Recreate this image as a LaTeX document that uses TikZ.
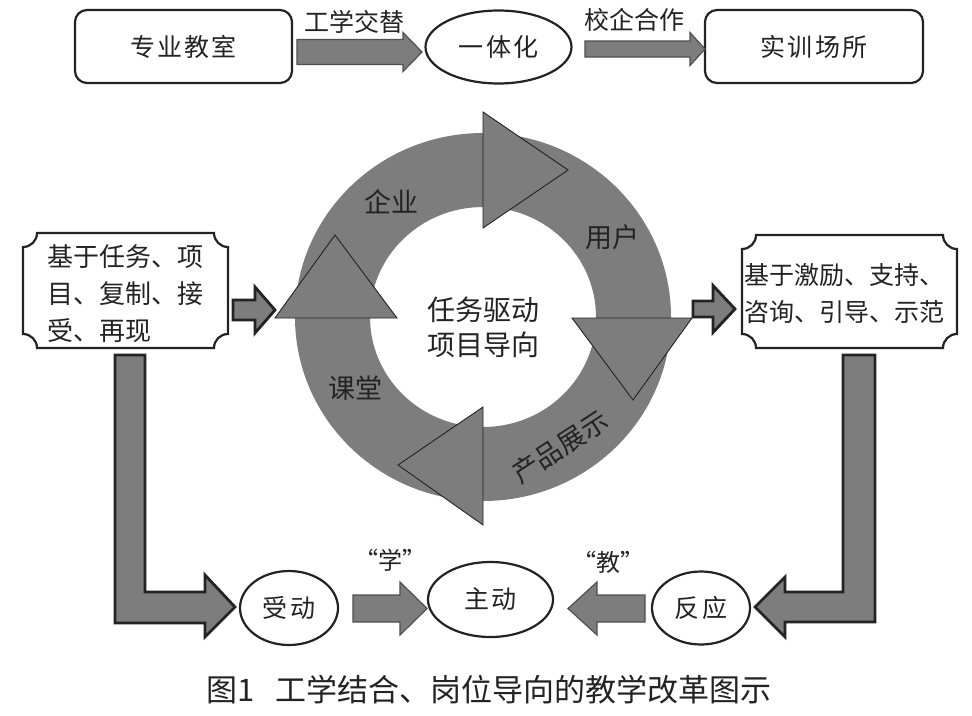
\documentclass[tikz,border=0pt]{standalone}
\usepackage{fontspec}
\setmainfont{Noto Sans CJK SC}
\newfontfamily\cjksp[LetterSpace=9]{Noto Sans CJK SC}
\usetikzlibrary{shapes.geometric}
\definecolor{ag}{RGB}{125,125,125}
\definecolor{ink}{RGB}{35,35,35}
\newcommand\barrow[7]{%
  \filldraw[#1] (#2,{#5-#6}) -- (#3,{#5-#6}) -- (#3,{#5-#7}) -- (#4,#5) -- (#3,{#5+#7}) -- (#3,{#5+#6}) -- (#2,{#5+#6}) -- cycle;}
\newcommand\plaque[5]{%
  \draw[boxline] ({#1+#5},#2) -- ({#3-#5},#2)
     .. controls ({#3-#5},{#2+0.552*#5}) and ({#3-0.552*#5},{#2+#5}) .. (#3,{#2+#5})
   -- (#3,{#4-#5})
     .. controls ({#3-0.552*#5},{#4-#5}) and ({#3-#5},{#4-0.552*#5}) .. ({#3-#5},#4)
   -- ({#1+#5},#4)
     .. controls ({#1+#5},{#4-0.552*#5}) and ({#1+0.552*#5},{#4-#5}) .. (#1,{#4-#5})
   -- (#1,{#2+#5})
     .. controls ({#1+0.552*#5},{#2+#5}) and ({#1+#5},{#2+0.552*#5}) .. ({#1+#5},#2) -- cycle;}
\begin{document}
\begin{tikzpicture}[x=1pt,y=-1pt,
  every node/.style={text=ink, inner sep=0pt},
  boxline/.style={draw=ink, line width=2.2pt, fill=white},
  thinarr/.style={fill=ag, draw=ink!80, line width=1.2pt},
  thickarr/.style={fill=ag, draw=ink, line width=2.8pt, line join=miter},
  tri/.style={fill=ag, draw=ink, line width=0.9pt},
  lbl/.style={font=\fontsize{25}{30}\selectfont},
  ringlbl/.style={font=\fontsize{27}{30}\selectfont}]
\useasboundingbox (0,0) rectangle (972,715);
\fill[white] (0,0) rectangle (972,715);

% ---- top row
\node[boxline, rounded corners=12pt, minimum width=217pt, minimum height=73pt, lbl] (zy) at (183.5,46.5) {\cjksp 专业教室};
\node[boxline, ellipse, minimum width=146pt, minimum height=73pt, lbl] (yth) at (498.5,47) {\cjksp 一体化};
\node[boxline, rounded corners=12pt, minimum width=218pt, minimum height=73pt, lbl] (sx) at (814,46.5) {\cjksp 实训场所};
\barrow{thinarr}{297}{403}{422}{52}{12.5}{19.5}
\barrow{thinarr}{585}{690}{705}{49}{8}{16.5}
\node[lbl] (gx) at (354,22) {工学交替};
\node[lbl] (xq) at (634,20) {校企合作};

% ---- ring
\fill[ag, even odd rule] (483,317) ellipse [x radius=188, y radius=184]
                         (483,317) ellipse [x radius=113, y radius=110];
\filldraw[tri] (483,112) -- (483,228) -- (568,170) -- cycle;
\filldraw[tri] (572,318) -- (692,318) -- (633,400) -- cycle;
\filldraw[tri] (483,407) -- (483,525) -- (398,465) -- cycle;
\filldraw[tri] (275,318) -- (397,318) -- (335,235) -- cycle;
\node[ringlbl] (qy) at (391,202) {企业};
\node[ringlbl] (yh) at (612,237) {用户};
\node[ringlbl] (kt) at (355,388) {课堂};
\node[ringlbl, rotate=33] (cp) at (560,447) {产品展示};
\node[align=center, font=\fontsize{28}{35}\selectfont] (ct) at (483,327) {任务驱动\\项目导向};

% ---- side boxes
\plaque{23}{233}{228}{348}{14}
\node[align=left, anchor=west, font=\fontsize{26}{37}\selectfont] (lt) at (47,294) {基于任务、项\\目、复制、接\\受、再现};
\plaque{742}{235}{957}{348}{14}
\node[align=left, anchor=west, font=\fontsize{25}{37}\selectfont] (rt) at (744,293.5) {基于激励、支持、\\咨询、引导、示范};
\barrow{thickarr}{233}{255}{275}{310}{10}{23}
\barrow{thickarr}{693}{713}{735}{309}{8}{23.5}

% ---- L arrows
\filldraw[thickarr] (115,355) -- (145,355) -- (145,592) -- (205,592) -- (205,575) -- (235,607)
  -- (205,637) -- (205,623) -- (115,623) -- cycle;
\filldraw[thickarr] (875,355) -- (843,355) -- (843,592) -- (785,592) -- (785,577) -- (755,607)
  -- (785,637) -- (785,622) -- (875,622) -- cycle;

% ---- bottom row
\node[boxline, ellipse, minimum width=98pt, minimum height=74pt, lbl] (sd) at (289,608) {\cjksp 受动};
\node[boxline, ellipse, minimum width=125pt, minimum height=75pt, lbl] (zd) at (490.5,599.5) {\cjksp 主动};
\node[boxline, ellipse, minimum width=98pt, minimum height=73pt, lbl] (fy) at (701,608) {\cjksp 反应};
\barrow{thinarr}{353}{400}{427}{608.5}{13.5}{26.5}
\barrow{thinarr}{645}{597}{568}{608.5}{13.5}{26.5}
\node[font=\fontsize{24}{28}\selectfont] (xue) at (390,560) {“学”};
\node[font=\fontsize{24}{28}\selectfont] (jiao) at (608,562) {“教”};

% ---- caption
\node[font=\fontsize{31}{36}\selectfont] (cap) at (489,690) {图1\hspace{20pt}工学结合、岗位导向的教学改革图示};
\end{tikzpicture}
\end{document}
